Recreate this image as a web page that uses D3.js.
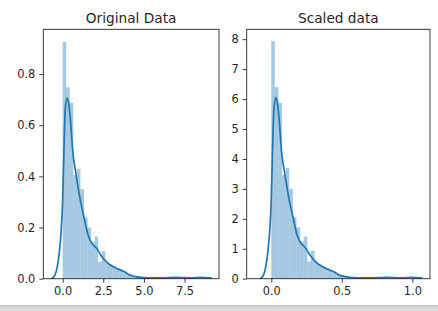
<!DOCTYPE html>
<html>
<head>
<meta charset="utf-8">
<script src="https://cdnjs.cloudflare.com/ajax/libs/d3/7.8.5/d3.min.js"></script>
<style>
  body { margin: 0; background: #fff; }
  text { font-family: "DejaVu Sans", sans-serif; fill: #262626; }
</style>
</head>
<body>
<div id="chartDiv"></div>
<script>

// ---- data ----

// histogram: bins start at 0, fixed width
var origBinWidth = 0.219;
var origHist = [0.926, 0.748, 0.687, 0.405, 0.43, 0.35, 0.24, 0.20, 0.145, 0.165,
                0.066, 0.108, 0.064, 0.058, 0.05, 0.042, 0.034, 0.026, 0.016, 0.010,
                0.008, 0.006, 0.004, 0.004, 0.003, 0.003, 0.002, 0.003, 0.003, 0.002,
                0.002, 0.003, 0.002, 0.002, 0.001, 0.002, 0.002, 0.001, 0.003, 0.002,
                0.002, 0.002];

var scaledBinWidth = 0.0256;
var scaledHist = [7.93, 6.40, 5.87, 3.47, 3.7, 3.0, 2.05, 1.72, 1.25, 1.41,
                  0.57, 0.93, 0.55, 0.50, 0.43, 0.36, 0.29, 0.22, 0.14, 0.09,
                  0.07, 0.05, 0.035, 0.03, 0.026, 0.026, 0.017, 0.026, 0.026, 0.017,
                  0.017, 0.026, 0.017, 0.017, 0.009, 0.017, 0.017, 0.009, 0.026, 0.017,
                  0.017, 0.017];

// kde curves
var origKdeX = [-0.68, -0.47, -0.33, -0.21, -0.10, 0.0, 0.08, 0.16, 0.27, 0.36,
                0.48, 0.62, 0.82, 1.08, 1.35, 1.58, 1.78, 1.95, 2.1, 2.35,
                2.6, 2.9, 3.3, 3.8, 4.15, 4.5, 5.0, 5.5, 6.0, 6.5,
                7.0, 7.5, 8.0, 8.5, 9.19];
var origKdeY = [0, 0.014, 0.047, 0.10, 0.177, 0.307, 0.50, 0.66, 0.706, 0.69,
                0.62, 0.50, 0.41, 0.31, 0.23, 0.168, 0.14, 0.128, 0.118, 0.092,
                0.072, 0.055, 0.041, 0.027, 0.014, 0.008, 0.004, 0.003, 0.003, 0.004,
                0.005, 0.004, 0.003, 0.005, 0.002];

var scaledKdeX = [-0.079, -0.055, -0.039, -0.025, -0.012, 0.0, 0.009, 0.019, 0.032, 0.042,
                  0.056, 0.072, 0.096, 0.126, 0.158, 0.184, 0.208, 0.228, 0.245, 0.274,
                  0.303, 0.338, 0.385, 0.443, 0.484, 0.525, 0.583, 0.642, 0.70, 0.758,
                  0.817, 0.875, 0.933, 0.992, 1.072];
var scaledKdeY = [0, 0.12, 0.40, 0.86, 1.52, 2.63, 4.29, 5.66, 6.05, 5.91,
                  5.31, 4.29, 3.51, 2.66, 1.97, 1.44, 1.20, 1.10, 1.01, 0.79,
                  0.62, 0.47, 0.35, 0.23, 0.12, 0.07, 0.034, 0.026, 0.026, 0.034,
                  0.043, 0.034, 0.026, 0.043, 0.017];

// tick labels
var origXTicks = [0, 2.5, 5, 7.5];
var origYTicks = [0, 0.2, 0.4, 0.6, 0.8];
var scaledXTicks = [0, 0.5, 1.0];
var scaledYTicks = [0, 1, 2, 3, 4, 5, 6, 7, 8];

var titles = ["Original Data", "Scaled data"];


var width = 438;
var height = 311;
var histColor = "#1f77b4";

var svg = d3.select('#chartDiv').append('svg')
  .attr('width', width).attr('height', height);

// grey strip at the bottom of the screenshot
var defs = svg.append("defs");
var grad = defs.append("linearGradient").attr("id", "stripGrad")
  .attr("x1", 0).attr("y1", 0).attr("x2", 0).attr("y2", 1);
grad.append("stop").attr("offset", 0).attr("stop-color", "#c9c9c9");
grad.append("stop").attr("offset", 1).attr("stop-color", "#e2e2e2");
svg.append("rect").attr("x", 0).attr("y", 305).attr("width", width).attr("height", 6)
  .attr("fill", "url(#stripGrad)");


// draw one distplot panel
function drawPanel(box, xDomain, yDomain, hist, binWidth, kdeX, kdeY, xTicks, yTicks, title, yFmt) {

  var x = d3.scaleLinear().domain(xDomain).range([box.left, box.right]);
  var y = d3.scaleLinear().domain(yDomain).range([box.bottom, box.top]);

  var g = svg.append('g');

  // histogram bars
  g.selectAll('rect.bar')
    .data(hist)
    .enter()
    .append('rect')
    .attr('class', 'bar')
    .attr('x', function(d, i) { return x(i * binWidth); })
    .attr('width', function(d, i) { return x((i + 1) * binWidth) - x(i * binWidth); })
    .attr('y', function(d) { return y(d); })
    .attr('height', function(d) { return y(0) - y(d); })
    .attr('fill', histColor)
    .attr('fill-opacity', 0.4);

  // kde line
  var pts = kdeX.map(function(v, i) { return [v, kdeY[i]]; });
  var line = d3.line()
    .x(function(d) { return x(d[0]); })
    .y(function(d) { return y(d[1]); })
    .curve(d3.curveMonotoneX);

  g.append('path')
    .attr('d', line(pts))
    .attr('fill', 'none')
    .attr('stroke', histColor)
    .attr('stroke-width', 1.7)
    .attr('stroke-linejoin', 'round');

  // axes
  var xAxis = d3.axisBottom(x).tickValues(xTicks).tickSize(4).tickPadding(4)
    .tickFormat(d3.format('.1f'));
  var yAxis = d3.axisLeft(y).tickValues(yTicks).tickSize(4).tickPadding(4)
    .tickFormat(yFmt);

  var gx = g.append('g').attr('transform', 'translate(0,' + box.bottom + ')').call(xAxis);
  var gy = g.append('g').attr('transform', 'translate(' + box.left + ',0)').call(yAxis);

  [gx, gy].forEach(function(a) {
    a.select('.domain').remove();
    a.selectAll('line').attr('stroke', '#262626').attr('stroke-width', 0.9);
    a.selectAll('text').style('font-size', '11.4px')
      .style('font-family', '"DejaVu Sans", sans-serif').attr('fill', '#262626');
  });

  // frame
  g.append('rect')
    .attr('x', box.left).attr('y', box.top)
    .attr('width', box.right - box.left).attr('height', box.bottom - box.top)
    .attr('fill', 'none').attr('stroke', '#262626').attr('stroke-width', 0.9);

  // title
  g.append('text')
    .attr('x', (box.left + box.right) / 2)
    .attr('y', box.top - 6.5)
    .attr('text-anchor', 'middle')
    .style('font-size', '13.7px')
    .text(title);
}


drawPanel({left: 43.3, right: 219, top: 29.3, bottom: 278.7},
          [-1.19, 9.62], [0, 0.975],
          origHist, origBinWidth, origKdeX, origKdeY,
          origXTicks, origYTicks, titles[0], d3.format('.1f'));

drawPanel({left: 246.7, right: 430, top: 29.3, bottom: 278.7},
          [-0.174, 1.125], [0, 8.33],
          scaledHist, scaledBinWidth, scaledKdeX, scaledKdeY,
          scaledXTicks, scaledYTicks, titles[1], d3.format('d'));

</script>
</body>
</html>
